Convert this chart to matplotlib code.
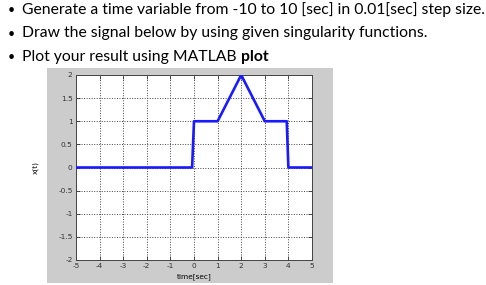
import numpy as np
import matplotlib
matplotlib.use("Agg")
import matplotlib.pyplot as plt
from matplotlib.patches import Rectangle

plt.rcParams["axes.unicode_minus"] = False

# Signal breakpoints
t_pts = [-5, -0.08, 0, 1, 2, 3, 3.93, 4, 5]
x_pts = [0, 0, 1, 1, 2, 1, 1, 0, 0]

xticks = [-5, -4, -3, -2, -1, 0, 1, 2, 3, 4, 5]
yticks = [-2, -1.5, -1, -0.5, 0, 0.5, 1, 1.5, 2]
ytick_labels = ["-2", "-1.5", "-1", "-0.5", "0", "0.5", "1", "1.5", "2"]

bullets = [
    ("Generate a time variable from -10 to 10 [sec] in 0.01[sec] step size.", None),
    ("Draw the signal below by using given singularity functions.", None),
    ("Plot your result using MATLAB ", "plot"),
]

fig = plt.figure(figsize=(4.86, 2.85), dpi=100)
fig.patch.set_facecolor("white")

# Bullet text
fs = 11.3
for i, (txt, bold) in enumerate(bullets):
    y = 1 - (10 + 23.5 * i) / 285
    fig.text(8 / 486, y, "\u2022", fontsize=9, family="Lato", va="center")
    t = fig.text(22 / 486, y, txt, fontsize=fs, family="Lato", va="center")
    if bold:
        fig.canvas.draw()
        bb = t.get_window_extent()
        fig.text(bb.x1 / 486, y, bold, fontsize=fs, family="Lato",
                 fontweight="bold", va="center")

# MATLAB style grey figure panel
fig.patches.append(Rectangle((47 / 486, 2 / 285), 286 / 486, 215 / 285,
                             transform=fig.transFigure, facecolor="#cccccc",
                             edgecolor="none", zorder=-10))

ax = fig.add_axes([76 / 486, 25 / 285, 236 / 486, 185 / 285])
ax.set_zorder(5)
ax.plot(t_pts, x_pts, color="#1a1aff", lw=1.9, zorder=3)
ax.set_xlim(-5, 5)
ax.set_ylim(-2, 2)
ax.set_xticks(xticks)
ax.set_yticks(yticks)
ax.set_yticklabels(ytick_labels)
ax.grid(True, ls=(0, (1, 1.6)), color="#444444", lw=0.7)
ax.tick_params(direction="in", length=3, width=0.6, labelsize=5.3,
               top=True, right=True, pad=2.5, colors="#333333")
for s in ax.spines.values():
    s.set_color("#444444")
    s.set_linewidth(0.7)
ax.set_xlabel("time[sec]", fontsize=5.3, labelpad=3)
ax.set_ylabel("x(t)", fontsize=5.3, labelpad=14)

fig.savefig("out.png", dpi=100)
